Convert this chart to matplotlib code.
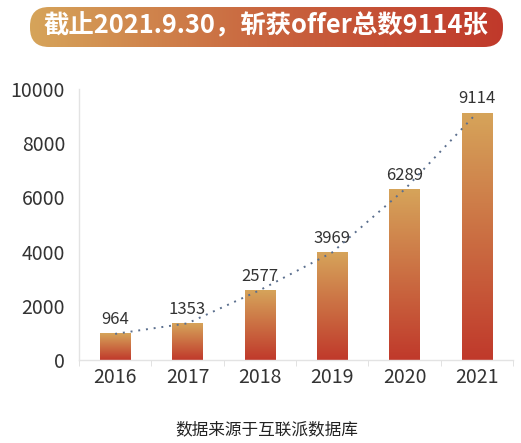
import numpy as np
import matplotlib
matplotlib.use("Agg")
import matplotlib.pyplot as plt
from matplotlib.patches import FancyBboxPatch
from matplotlib.colors import LinearSegmentedColormap

plt.rcParams['font.family'] = ['Noto Sans CJK SC', 'DejaVu Sans']

# Data
years = ['2016', '2017', '2018', '2019', '2020', '2021']
offers = [964, 1353, 2577, 3969, 6289, 9114]
y_ticks = [0, 2000, 4000, 6000, 8000, 10000]
title = '截止2021.9.30，斩获offer总数9114张'
source = '数据来源于互联派数据库'

# Colours
gold = '#D6A45A'
red = '#C0392B'
cmap = LinearSegmentedColormap.from_list('gr', [red, gold])
cmap_h = LinearSegmentedColormap.from_list('gh', [gold, '#C9653F', red])

W, H = 521, 443
fig = plt.figure(figsize=(W / 100, H / 100), dpi=100)

# main axes
ax = fig.add_axes([79 / W, 1 - 360 / H, 434 / W, 271 / H])
x = np.arange(len(years))
bar_w = 0.42
grad = np.linspace(0, 1, 256).reshape(-1, 1)
for xi, v in zip(x, offers):
    ax.imshow(grad, cmap=cmap, origin='lower', aspect='auto',
              extent=(xi - bar_w / 2, xi + bar_w / 2, 0, v), zorder=2)
    ax.annotate(str(v), (xi, v), xytext=(0, 4), textcoords='offset points',
                ha='center', va='bottom', fontsize=12, color='#333333')

# dotted trend line through the bar tops
ax.plot(x, offers, linestyle=(0, (1, 3)), color='#5B6F8E', linewidth=1.4,
        zorder=3)

ax.set_xlim(-0.5, len(years) - 0.5)
ax.set_ylim(0, 10000)
ax.set_yticks(y_ticks)
ax.set_yticklabels([str(t) for t in y_ticks], fontsize=14, color='#333333')
ax.set_xticks(x)
ax.set_xticklabels(years, fontsize=14, color='#333333')
ax.set_xticks(np.arange(-0.5, len(years), 1), minor=True)
ax.tick_params(axis='x', which='major', length=0, pad=5)
ax.tick_params(axis='x', which='minor', length=4, color='#DDDDDD')
ax.tick_params(axis='y', length=0, pad=10)
for s in ['top', 'right']:
    ax.spines[s].set_visible(False)
for s in ['left', 'bottom']:
    ax.spines[s].set_color('#E3E3E3')
    ax.spines[s].set_linewidth(1)

# title banner
bx = fig.add_axes([30 / W, 1 - 47 / H, 473 / W, 40 / H])
bx.set_xlim(0, 473)
bx.set_ylim(0, 40)
bx.axis('off')
hgrad = np.linspace(0, 1, 256).reshape(1, -1)
im = bx.imshow(hgrad, cmap=cmap_h, aspect='auto', extent=(0, 473, 0, 40))
box = FancyBboxPatch((0, 0), 473, 40, boxstyle='round,pad=0,rounding_size=19',
                     transform=bx.transData, facecolor='none', edgecolor='none')
bx.add_patch(box)
im.set_clip_path(box)
bx.text(236.5, 21, title, ha='center', va='center', color='white',
        fontsize=18.3, fontweight='bold')

fig.text(267 / W, 1 - 430 / H, source, ha='center', va='center',
         fontsize=12, color='#222222')

fig.savefig('out.png', dpi=100)
